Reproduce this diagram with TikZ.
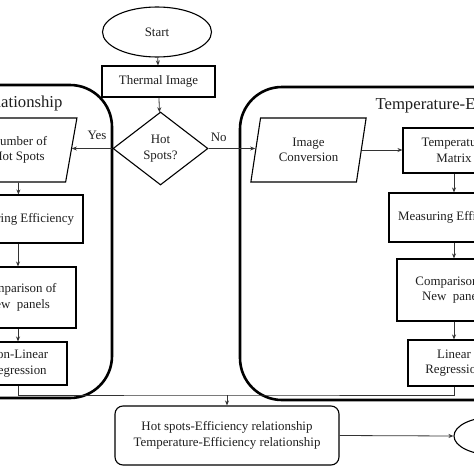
\documentclass[tikz,border=0pt]{standalone}
\usepackage{fontspec}
\setmainfont{Liberation Serif}
\usetikzlibrary{shapes.geometric,arrows.meta}
\begin{document}
\begin{tikzpicture}[x=1pt,y=-1pt,
  txt/.style={font=\fontsize{12.9}{15.5}\selectfont, text=black!88, align=center},
  box/.style={txt, draw, line width=1.1pt, inner sep=0pt},
  para/.style={box, trapezium, trapezium left angle=76, trapezium right angle=104, trapezium stretches=true},
  bigbox/.style={draw, line width=2.6pt, rounded corners=42pt},
  titletxt/.style={font=\fontsize{16.7}{18}\selectfont, text=black!88},
  conn/.style={line width=0.8pt, draw=black!80},
  arr/.style={conn, -{Stealth[length=5pt,width=4pt]}},
  lbl/.style={txt}
]
\useasboundingbox (0,0) rectangle (474,474);
\clip (0,0) rectangle (474,474);
\fill[white] (0,0) rectangle (474,474);

% big grouping boxes
\draw[bigbox] (-250,85) rectangle (112,398);
\draw[bigbox] (240,87) rectangle (720,400);
\node[titletxt, anchor=east] (ltitle) at (66,103) {Hot spots-Efficiency relationship};
\node[titletxt, anchor=west] (rtitle) at (372,105) {Temperature-Efficiency relationship};

% top
\node[box, ellipse, minimum width=109pt, minimum height=50pt] (start) at (157,32) {Start};
\node[box, minimum width=113pt, minimum height=31pt] (thermal) at (158.5,81.5) {Thermal Image};
\node[box, diamond, minimum width=95pt, minimum height=73pt] (hot) at (160.5,148.5) {Hot\\Spots?};

% left column
\node[para, minimum width=116pt, minimum height=64pt] (numhs) at (19,150) {Number of\\Hot Spots};
\node[box, minimum width=130pt, minimum height=48pt] (measL) at (18,219) {Measuring Efficiency};
\node[box, minimum width=116pt, minimum height=61pt] (compL) at (18,297.5) {Comparison of\\New\ \ panels};
\node[box, minimum width=98pt, minimum height=43pt] (nlr) at (18,363.5) {Non-Linear\\Regression};

% right column
\node[para, minimum width=116pt, minimum height=64pt] (imgconv) at (308.5,150) {Image\\Conversion};
\node[box, minimum width=102pt, minimum height=45pt] (tmat) at (454,150.5) {Temperature\\Matrix};
\node[box, minimum width=130pt, minimum height=49pt] (measR) at (454,217.5) {Measuring Efficiency};
\node[box, minimum width=114pt, minimum height=62pt] (compR) at (454,290) {Comparison of\\New\ \ panels};
\node[box, minimum width=92pt, minimum height=46pt] (linr) at (454,363) {Linear\\Regression};

% bottom
\node[box, rounded corners=8pt, minimum width=224pt, minimum height=59pt] (summary) at (227,435.5) {Hot spots-Efficiency relationship\\Temperature-Efficiency relationship};
\node[box, ellipse, minimum width=80pt, minimum height=38pt] (endn) at (494,436) {};

% connectors
\draw[arr] (start) -- (thermal);
\draw[arr] (thermal) -- (hot);
\draw[arr] (hot.west) -- (numhs.east |- hot.west) node[lbl, pos=0.38, above=5pt] (yes) {Yes};
\draw[arr] (hot.east) -- (imgconv.west |- hot.east) node[lbl, pos=0.22, above=3pt] (no) {No};
\draw[arr] (numhs) -- (measL);
\draw[arr] (measL) -- (compL);
\draw[arr] (compL) -- (nlr);
\draw[arr] (imgconv.east) -- (tmat.west |- imgconv.east);
\draw[arr] (tmat) -- (measR);
\draw[arr] (measR) -- (compR);
\draw[arr] (compR) -- (linr);
\coordinate (merge) at (227,395);
\draw[conn] (nlr.south) |- (merge) -| (linr.south);
\draw[arr] (merge) -- (summary.north);
\draw[arr] (summary.east) -- (endn.west);
\end{tikzpicture}
\end{document}
